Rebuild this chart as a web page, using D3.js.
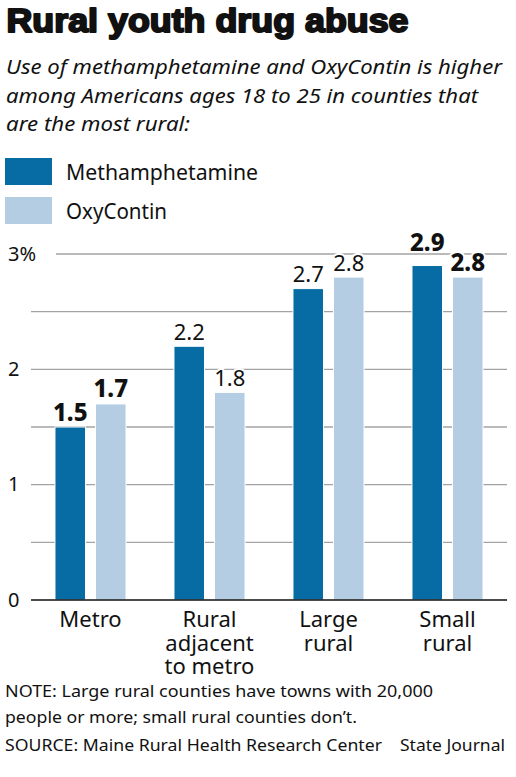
<!DOCTYPE html>
<html><head><meta charset="utf-8">
<script src="https://cdn.jsdelivr.net/npm/d3@7"></script>
<style>
html,body{margin:0;padding:0;background:#fff;}
svg{display:block;}
text{font-family:"Noto Sans","Open Sans",sans-serif;fill:#111;}
</style></head>
<body>
<svg id="c" width="516" height="777"></svg>
<script>
const categories = [["Metro"], ["Rural", "adjacent", "to metro"], ["Large", "rural"], ["Small", "rural"]];
const categoryKeys = ["Metro", "Rural adjacent to metro", "Large rural", "Small rural"];
const seriesNames = ["Methamphetamine", "OxyContin"];
const methValues = [1.5, 2.2, 2.7, 2.9];
const oxyValues = [1.7, 1.8, 2.8, 2.8];
const boldGroups = ["Metro", "Small rural"];
const yTicks = [0, 1, 2, 3];
const yGrid = [0.5, 1, 1.5, 2, 2.5, 3];
const titleText = "Rural youth drug abuse";
const subtitleLines = ["Use of methamphetamine and OxyContin is higher", "among Americans ages 18 to 25 in counties that", "are the most rural:"];
const noteLines = ["NOTE: Large rural counties have towns with 20,000", "people or more; small rural counties don\u2019t."];
const sourceText = "SOURCE: Maine Rural Health Research Center";
const creditText = "State Journal";

const colors = {Methamphetamine: "#066ca3", OxyContin: "#b5cde3"};
const svg = d3.select("#c");

function fit(sel, w) { sel.attr("textLength", w).attr("lengthAdjust", "spacingAndGlyphs"); return sel; }

// Title
fit(svg.append("text").attr("x", 6.5).attr("y", 32).style("font-family", "'Liberation Sans',Arial,sans-serif")
  .style("font-size", "33px").style("font-weight", 700)
  .attr("stroke", "#111").attr("stroke-width", 2).attr("stroke-linejoin", "round").text(titleText), 402);
// Subtitle
const subW = [496, 472, 184];
subtitleLines.forEach((l, i) => {
  fit(svg.append("text").attr("x", 6).attr("y", 74 + i * 28.5).style("font-size", "20px").style("font-style", "italic").text(l), subW[i]);
});
// Legend
const legW = [192, 101];
seriesNames.forEach((s, i) => {
  const y0 = 158 + i * 39;
  svg.append("rect").attr("x", 5).attr("y", y0).attr("width", 47).attr("height", 27).attr("fill", colors[s]);
  fit(svg.append("text").attr("x", 66).attr("y", y0 + 22).style("font-size", "22px").text(s), legW[i]);
});

// Scales
const x0 = d3.scaleBand().domain(categoryKeys).range([31, 507]).paddingInner(0.403).paddingOuter(0.2015);
const x1 = d3.scaleBand().domain(seriesNames).range([0, x0.bandwidth()]).paddingInner(0.247);
const y = d3.scaleLinear().domain([0, 3]).range([600, 254]);

// Grid
svg.append("g").selectAll("line").data(yGrid).join("line")
  .attr("x1", d => d === 3 ? 56 : 31).attr("x2", 507)
  .attr("y1", d => y(d)).attr("y2", d => y(d))
  .attr("stroke", "#a3a3a3").attr("stroke-width", 1.4);

// y tick labels via axis
const yAxis = d3.axisLeft(y).tickValues(yTicks).tickSize(0).tickFormat(d => d === 3 ? "3%" : d);
const ya = svg.append("g").attr("transform", "translate(8,0)").call(yAxis);
ya.select(".domain").remove();
ya.selectAll("text").attr("x", 0).attr("dy", null).attr("dominant-baseline", null)
  .attr("y", 6).attr("text-anchor", "start").style("font-size", "20px")
  .style("font-family", "'Noto Sans','Open Sans',sans-serif").attr("fill", "#111");

// Bars
const data = categoryKeys.map((k, i) => ({key: k, vals: [
  {s: "Methamphetamine", v: methValues[i]}, {s: "OxyContin", v: oxyValues[i]}]}));
const groups = svg.append("g").selectAll("g").data(data).join("g")
  .attr("transform", d => `translate(${x0(d.key)},0)`);
groups.selectAll("rect").data(d => d.vals).join("rect")
  .attr("x", d => x1(d.s)).attr("width", x1.bandwidth())
  .attr("y", d => y(d.v)).attr("height", d => y(0) - y(d.v))
  .attr("fill", d => colors[d.s]).attr("stroke", "#fff").attr("stroke-width", 1);
const topGrid = y(d3.max(yGrid));
groups.each(function(g) {
  const bold = boldGroups.includes(g.key);
  d3.select(this).selectAll("text.val").data(g.vals).join("text").attr("class", "val")
    .attr("x", d => x1(d.s) + x1.bandwidth() / 2)
    .attr("y", d => (y(d.v) - topGrid < 15) ? topGrid - 3.5 : y(d.v) - 6.5)
    .attr("text-anchor", "middle")
    .style("font-size", bold ? "24px" : "22px").style("font-weight", bold ? 800 : 400)
    .style("paint-order", "stroke").attr("stroke", "#fff").attr("stroke-width", 4)
    .text(d => d3.format(".1f")(d.v));
});

// Baseline
svg.append("line").attr("x1", 31).attr("x2", 507).attr("y1", y(0)).attr("y2", y(0)).attr("stroke", "#111").attr("stroke-width", 1.5);

// Category labels
categoryKeys.forEach((k, i) => {
  const t = svg.append("text").attr("text-anchor", "middle").style("font-size", "22px");
  categories[i].forEach((ln, j) => {
    t.append("tspan").attr("x", x0(k) + x0.bandwidth() / 2).attr("y", 627 + j * 23.5).text(ln);
  });
});

// Notes
const noteW = [428, 352];
noteLines.forEach((l, i) => {
  fit(svg.append("text").attr("x", 5).attr("y", 697 + i * 26).style("font-size", "17px").text(l), noteW[i]);
});
fit(svg.append("text").attr("x", 5).attr("y", 751).style("font-size", "17px").text(sourceText), 377);
fit(svg.append("text").attr("x", 400).attr("y", 751).style("font-size", "17px").text(creditText), 105);
</script>
</body></html>
